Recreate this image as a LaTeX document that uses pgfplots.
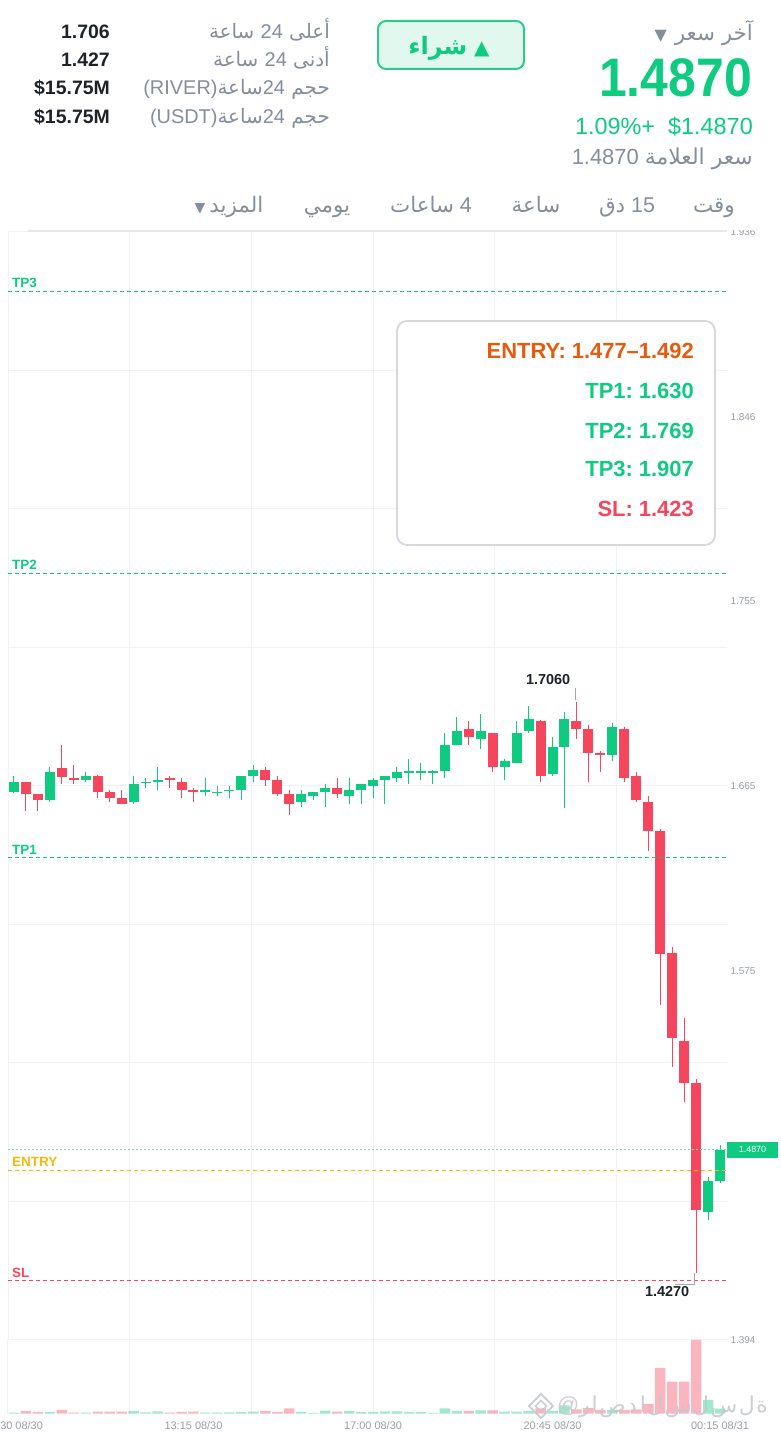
\documentclass[border=0pt]{standalone}
\usepackage{fontspec}
\usepackage{graphicx}
\usepackage{pgfplots}
\usepackage{pgfplotstable}
\pgfplotsset{compat=1.18}
\setmainfont{Liberation Sans}
\newfontfamily\arabicfont[Script=Arabic]{DejaVu Sans}
\newfontfamily\symfont{DejaVu Sans}
\TeXXeTstate=1
\definecolor{cgreen}{HTML}{0ECB81}
\definecolor{cred}{HTML}{F6465D}
\definecolor{cgrayt}{HTML}{848E9C}
\definecolor{cdark}{HTML}{1E2329}
\definecolor{corange}{HTML}{E8590C}
\definecolor{cyellow}{HTML}{F0B90B}
\definecolor{cgrid}{HTML}{F1F2F4}
\definecolor{ctick}{HTML}{9AA0A8}
\definecolor{cbox}{HTML}{D5D8DC}
\definecolor{cbtn}{HTML}{2DCB8A}
\definecolor{cbtnfill}{HTML}{E0F8EE}
\definecolor{csep}{HTML}{E6E8EB}
\definecolor{cwm}{HTML}{C4C7CC}

\pgfplotstableread{
x o h l c
0 1.6622 1.6699 1.6616 1.6668
3 1.6582 1.6741 1.6570 1.6720
6 1.6681 1.6720 1.6671 1.6700
10 1.6570 1.6700 1.6561 1.6660
11 1.6665 1.6690 1.6642 1.6670
12 1.6673 1.6741 1.6632 1.6679
16 1.6622 1.6690 1.6601 1.6630
17 1.6616 1.6650 1.6601 1.6621
18 1.6626 1.6650 1.6593 1.6630
19 1.6632 1.6700 1.6582 1.6700
20 1.6700 1.6751 1.6671 1.6730
24 1.6570 1.6630 1.6549 1.6610
25 1.6601 1.6621 1.6582 1.6621
26 1.6621 1.6660 1.6549 1.6640
28 1.6601 1.6690 1.6561 1.6630
29 1.6630 1.6660 1.6561 1.6660
30 1.6650 1.6690 1.6591 1.6679
31 1.6681 1.6700 1.6561 1.6700
32 1.6690 1.6741 1.6671 1.6720
33 1.6715 1.6780 1.6660 1.6723
34 1.6715 1.6761 1.6679 1.6723
35 1.6715 1.6728 1.6660 1.6723
36 1.6722 1.6907 1.6690 1.6849
37 1.6850 1.6988 1.6850 1.6918
39 1.6879 1.7001 1.6830 1.6918
41 1.6741 1.6780 1.6679 1.6770
42 1.6761 1.6969 1.6761 1.6909
43 1.6920 1.7040 1.6910 1.6978
45 1.6710 1.6889 1.6700 1.6839
46 1.6840 1.7010 1.6541 1.6978
50 1.6800 1.6959 1.6770 1.6938
58 1.4568 1.4736 1.4528 1.4717
59 1.4717 1.4895 1.4707 1.4870
}\greentab

\pgfplotstableread{
x o h l c
1 1.6668 1.6670 1.6530 1.6611
2 1.6610 1.6612 1.6530 1.6582
4 1.6739 1.6850 1.6660 1.6692
5 1.6690 1.6751 1.6660 1.6681
7 1.6700 1.6702 1.6593 1.6622
8 1.6619 1.6630 1.6570 1.6593
9 1.6590 1.6630 1.6560 1.6562
13 1.6690 1.6700 1.6642 1.6683
14 1.6670 1.6690 1.6593 1.6632
15 1.6630 1.6640 1.6570 1.6622
21 1.6730 1.6741 1.6651 1.6681
22 1.6679 1.6700 1.6601 1.6611
23 1.6610 1.6630 1.6510 1.6562
27 1.6640 1.6690 1.6593 1.6611
38 1.6928 1.6969 1.6850 1.6889
40 1.6909 1.6911 1.6720 1.6741
44 1.6969 1.6971 1.6671 1.6700
47 1.6969 1.7060 1.6879 1.6930
48 1.6928 1.6949 1.6671 1.6811
49 1.6810 1.6821 1.6720 1.6801
51 1.6928 1.6938 1.6671 1.6690
52 1.6699 1.6720 1.6572 1.6582
53 1.6570 1.6601 1.6333 1.6432
54 1.6430 1.6439 1.5577 1.5826
55 1.5834 1.5863 1.5276 1.5416
56 1.5403 1.5513 1.5105 1.5196
57 1.5195 1.5216 1.4270 1.4578
}\redtab

\pgfplotstableread{
x v
0 1.0
3 1.7
6 1.0
10 2.7
11 1.3
12 2.3
16 1.0
17 1.0
18 1.3
19 1.7
20 2.0
24 1.7
25 0.7
26 3.0
28 2.7
29 1.7
30 1.7
31 2.3
32 2.3
33 1.7
34 1.7
35 0.7
36 5.3
37 2.7
39 3.3
41 2.0
42 2.0
43 2.7
45 2.7
46 8.3
50 3.7
58 13.7
59 5.0
}\volg

\pgfplotstableread{
x v
1 2.7
2 1.7
4 3.7
5 1.0
7 2.0
8 2.0
9 2.0
13 1.0
14 1.7
15 2.0
21 2.7
22 1.7
23 5.3
27 2.0
38 2.7
40 3.3
44 5.3
47 4.3
48 5.7
49 3.7
51 3.7
52 4.3
53 9.7
54 45.7
55 32.0
56 32.0
57 73.7
}\volr

\begin{document}
\frenchspacing
\begin{tikzpicture}[x=1bp,y=1bp]
\useasboundingbox (0,0) rectangle (780,1432);
\fill[white] (0,0) rectangle (780,1432);

% ---------------- price axis ----------------
\begin{axis}[
  at={(8bp,92bp)}, anchor=south west, scale only axis,
  width=719bp, height=1108bp,
  xmin=-0.5, xmax=59.58, ymin=1.394, ymax=1.936,
  axis line style={draw=none}, clip=false,
  major tick length=0pt, tick style={draw=none},
  xtick=\empty,
  extra x ticks={-0.5,9.64,19.81,30.03,40.16,50.33},
  extra x tick labels={},
  extra x tick style={grid=major},
  ytick={1.394,1.48433,1.57467,1.665,1.75533,1.84567,1.936},
  yticklabels={1.394,1.485,1.575,1.665,1.755,1.846,1.936},
  extra y ticks={1.394,1.46175,1.5295,1.59725,1.665,1.73275,1.8005,1.86825,1.936},
  extra y tick labels={},
  extra y tick style={grid=major},
  major grid style={draw=cgrid, line width=1bp},
  yticklabel pos=right,
  yticklabel style={font=\fontsize{10}{11}\selectfont, text=ctick},
]
% green candles
\addplot[forget plot, draw=none, no markers, error bars/.cd, y dir=both, y explicit, error mark=none,
  error bar style={line width=1bp, draw=cgreen}]
  table[x=x, y expr={(\thisrow{h}+\thisrow{l})/2}, y error expr={(\thisrow{h}-\thisrow{l})/2}] {\greentab};
\addplot[forget plot, draw=none, no markers, error bars/.cd, y dir=both, y explicit, error mark=none,
  error bar style={line width=10bp, draw=cgreen}]
  table[x=x, y expr={(\thisrow{o}+\thisrow{c})/2}, y error expr={max(abs(\thisrow{c}-\thisrow{o})/2,0.0003)}] {\greentab};
% red candles
\addplot[forget plot, draw=none, no markers, error bars/.cd, y dir=both, y explicit, error mark=none,
  error bar style={line width=1bp, draw=cred}]
  table[x=x, y expr={(\thisrow{h}+\thisrow{l})/2}, y error expr={(\thisrow{h}-\thisrow{l})/2}] {\redtab};
\addplot[forget plot, draw=none, no markers, error bars/.cd, y dir=both, y explicit, error mark=none,
  error bar style={line width=10bp, draw=cred}]
  table[x=x, y expr={(\thisrow{o}+\thisrow{c})/2}, y error expr={max(abs(\thisrow{c}-\thisrow{o})/2,0.0003)}] {\redtab};

% level lines
\addplot[forget plot, draw=cgreen, line width=1bp, dash pattern=on 4bp off 3bp] coordinates {(-0.5,1.907) (59.58,1.907)};
\addplot[forget plot, draw=cgreen, line width=1bp, dash pattern=on 4bp off 3bp] coordinates {(-0.5,1.769) (59.58,1.769)};
\addplot[forget plot, draw=cgreen, line width=1bp, dash pattern=on 4bp off 3bp] coordinates {(-0.5,1.630) (59.58,1.630)};
\addplot[forget plot, draw=cgreen!55, line width=1bp, dash pattern=on 2bp off 2bp] coordinates {(-0.5,1.487) (59.58,1.487)};
\addplot[forget plot, draw=cyellow, line width=1bp, dash pattern=on 4bp off 3bp] coordinates {(-0.5,1.477) (59.58,1.477)};
\addplot[forget plot, draw=cred, line width=1bp, dash pattern=on 4bp off 3bp] coordinates {(-0.5,1.423) (59.58,1.423)};

% level labels
\node[anchor=base west, inner sep=0pt, yshift=3.5bp, text=cgreen, font=\bfseries\fontsize{13.5}{15}\selectfont] at (axis cs:-0.17,1.907) {TP3};
\node[anchor=base west, inner sep=0pt, yshift=3.5bp, text=cgreen, font=\bfseries\fontsize{13.5}{15}\selectfont] at (axis cs:-0.17,1.769) {TP2};
\node[anchor=base west, inner sep=0pt, yshift=3.5bp, text=cgreen, font=\bfseries\fontsize{13.5}{15}\selectfont] at (axis cs:-0.17,1.630) {TP1};
\node[anchor=base west, inner sep=0pt, yshift=3.5bp, text=cyellow, font=\bfseries\fontsize{13.5}{15}\selectfont] at (axis cs:-0.17,1.477) {ENTRY};
\node[anchor=base west, inner sep=0pt, yshift=3.5bp, text=cred, font=\bfseries\fontsize{13.5}{15}\selectfont] at (axis cs:-0.17,1.423) {SL};

% high / low annotations
\draw[draw=black!35, line width=1bp] (axis cs:46.9,1.7070) -- (axis cs:46.9,1.7128);
\node[inner sep=0pt, text=cdark, font=\bfseries\fontsize{14.5}{16}\selectfont] at (axis cs:44.63,1.7172) {1.7060};
\draw[draw=black!35, line width=1bp] (axis cs:56.83,1.4266) -- (axis cs:56.83,1.4211) -- (axis cs:55.2,1.4211);
\node[inner sep=0pt, text=cdark, font=\bfseries\fontsize{14.5}{16}\selectfont] at (axis cs:54.58,1.4177) {1.4270};
\end{axis}

% ---------------- volume axis ----------------
\begin{axis}[
  at={(8bp,18.3bp)}, anchor=south west, scale only axis,
  width=719bp, height=73.7bp,
  xmin=-0.5, xmax=59.58, ymin=0, ymax=73.7,
  axis line style={draw=none}, clip=false,
  major tick length=0pt, tick style={draw=none},
  ytick=\empty,
  xtick={0,15,30,45,59},
  xticklabels={09:30 08/30,13:15 08/30,17:00 08/30,20:45 08/30,00:15 08/31},
  xticklabel style={font=\fontsize{11}{12}\selectfont, text=ctick},
  xticklabel shift=4bp,
  extra x ticks={-0.5,9.64,19.81,30.03,40.16,50.33},
  extra x tick labels={},
  extra x tick style={grid=major},
  major grid style={draw=cgrid, line width=1bp},
]
\addplot[forget plot, ybar, bar width=10.5bp, bar shift=0pt, fill=cgreen, fill opacity=0.4, draw=none] table[x=x, y=v] {\volg};
\addplot[forget plot, ybar, bar width=10.5bp, bar shift=0pt, fill=cred, fill opacity=0.4, draw=none] table[x=x, y=v] {\volr};
\end{axis}

% watermark
\begin{scope}[shift={(541,26)}, opacity=0.85]
\draw[cwm, line width=1.8bp] (0,-12) -- (12,0) -- (0,12) -- (-12,0) -- cycle;
\draw[cwm, line width=1.5bp] (0,-5.5) -- (5.5,0) -- (0,5.5) -- (-5.5,0) -- cycle;
\end{scope}
\node[anchor=base west, inner sep=0pt, text=cwm, opacity=0.85, font=\fontsize{22}{24}\selectfont] at (557,19) {@{\arabicfont ر\hspace{1.5bp}ا\hspace{1.5bp}ص\hspace{1.5bp}د\hspace{3bp}ا\hspace{1.5bp}ل\hspace{1.5bp}س\hspace{1.5bp}ل\hspace{1.5bp}س\hspace{1.5bp}ل\hspace{1.5bp}ة}};

% price tag
\fill[cgreen] (727,274.3) rectangle (778,290.3);
\node[text=white, inner sep=0pt, font=\fontsize{9}{10}\selectfont] at (752.5,282.3) {1.4870};

% legend box
\draw[draw=cbox, line width=1.8bp, fill=white, rounded corners=10bp] (397,887) rectangle (715,1111);
\node[anchor=base east, inner sep=0pt, text=corange, font=\bfseries\fontsize{22}{24}\selectfont] at (694,1073.7) {ENTRY: 1.477–1.492};
\node[anchor=base east, inner sep=0pt, text=cgreen, font=\bfseries\fontsize{22}{24}\selectfont] at (694,1033.7) {TP1: 1.630};
\node[anchor=base east, inner sep=0pt, text=cgreen, font=\bfseries\fontsize{22}{24}\selectfont] at (694,993.7) {TP2: 1.769};
\node[anchor=base east, inner sep=0pt, text=cgreen, font=\bfseries\fontsize{22}{24}\selectfont] at (694,955.3) {TP3: 1.907};
\node[anchor=base east, inner sep=0pt, text=cred, font=\bfseries\fontsize{22}{24}\selectfont] at (694,915.3) {SL: 1.423};

% ---------------- header ----------------
\fill[white] (0,1202) rectangle (780,1432);
\draw[draw=csep, line width=2bp] (28,1201) -- (727,1201);

% left stats
\node[anchor=base east, inner sep=0pt, text=cdark, font=\bfseries\fontsize{19.5}{22}\selectfont] at (110,1393.7) {1.706};
\node[anchor=base east, inner sep=0pt, text=cdark, font=\bfseries\fontsize{19.5}{22}\selectfont] at (110,1365.3) {1.427};
\node[anchor=base east, inner sep=0pt, text=cdark, font=\bfseries\fontsize{19.5}{22}\selectfont] at (110,1337) {\$15.75M};
\node[anchor=base east, inner sep=0pt, text=cdark, font=\bfseries\fontsize{19.5}{22}\selectfont] at (110,1308.7) {\$15.75M};

\node[anchor=base east, inner sep=0pt, text=cgrayt, font=\fontsize{20}{23}\selectfont] at (330,1393.7) {{\arabicfont\beginR أعلى \beginL{\rmfamily 24}\endL{} ساعة\endR}};
\node[anchor=base east, inner sep=0pt, text=cgrayt, font=\fontsize{20}{23}\selectfont] at (330,1365.3) {{\arabicfont\beginR أدنى \beginL{\rmfamily 24}\endL{} ساعة\endR}};
\node[anchor=base east, inner sep=0pt, text=cgrayt, font=\fontsize{20}{23}\selectfont] at (330,1337) {(RIVER){\arabicfont\beginR حجم \beginL{\rmfamily 24}\endL{}ساعة\endR}};
\node[anchor=base east, inner sep=0pt, text=cgrayt, font=\fontsize{20}{23}\selectfont] at (330,1308.7) {(USDT){\arabicfont\beginR حجم \beginL{\rmfamily 24}\endL{}ساعة\endR}};

% buy button
\draw[draw=cbtn, line width=2bp, fill=cbtnfill, rounded corners=8bp] (378,1363) rectangle (524,1411);
\node[anchor=base, inner sep=0pt, text=cgreen] at (449,1377) {{\arabicfont\bfseries\fontsize{24}{27}\selectfont\beginR شراء\endR}\hspace{7bp}{\symfont\fontsize{20}{22}\selectfont ▲}};

% right header
\node[anchor=base east, inner sep=0pt, text=cgrayt, font=\fontsize{21.5}{24}\selectfont] at (753,1391) {{\symfont\fontsize{16}{18}\selectfont ▼}\hspace{8bp}{\arabicfont\beginR آخر سعر\endR}};
\node[anchor=base east, inner sep=0pt, text=cgreen] at (752,1335) {\scalebox{0.92}[1]{\fontsize{54.5}{60}\selectfont\bfseries 1.4870}};
\node[anchor=base east, inner sep=0pt, text=cgreen, font=\fontsize{23.5}{26}\selectfont] at (753,1297) {1.09\%+\hspace{13bp}\$1.4870};
\node[anchor=base east, inner sep=0pt, text=cgrayt, font=\fontsize{22}{25}\selectfont] at (753,1267) {1.4870 {\arabicfont\beginR سعر العلامة\endR}};

% tabs
\node[anchor=base, inner sep=0pt, text=cgrayt, font=\fontsize{21.5}{24}\selectfont] at (714,1219) {{\arabicfont\beginR وقت\endR}};
\node[anchor=base, inner sep=0pt, text=cgrayt, font=\fontsize{21.5}{24}\selectfont] at (627,1219) {{\arabicfont\beginR دق\endR} 15};
\node[anchor=base, inner sep=0pt, text=cgrayt, font=\fontsize{21.5}{24}\selectfont] at (536,1219) {{\arabicfont\beginR ساعة\endR}};
\node[anchor=base, inner sep=0pt, text=cgrayt, font=\fontsize{21.5}{24}\selectfont] at (431,1219) {{\arabicfont\beginR ساعات\endR} 4};
\node[anchor=base, inner sep=0pt, text=cgrayt, font=\fontsize{21.5}{24}\selectfont] at (327,1219) {{\arabicfont\beginR يومي\endR}};
\node[anchor=base, inner sep=0pt, text=cgrayt, font=\fontsize{21.5}{24}\selectfont] at (229,1219) {{\symfont\fontsize{14}{16}\selectfont ▼}\hspace{4bp}{\arabicfont\beginR المزيد\endR}};
\end{tikzpicture}
\end{document}
